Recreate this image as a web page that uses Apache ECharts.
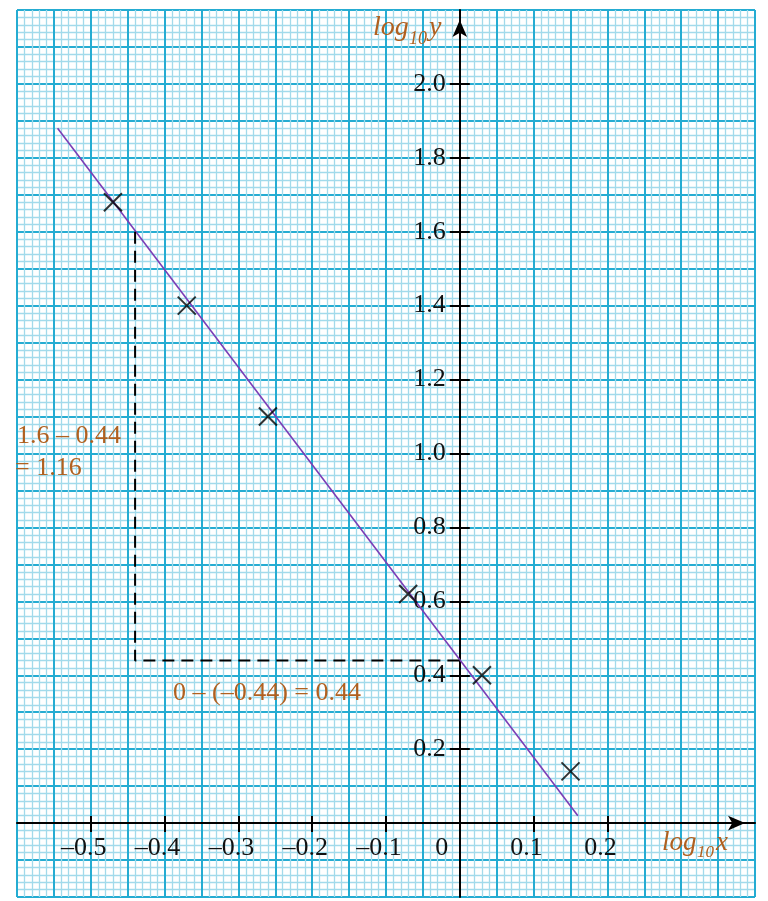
<!DOCTYPE html>
<html>
<head>
<meta charset="utf-8">
<script src="https://cdn.jsdelivr.net/npm/echarts@6/dist/echarts.min.js"></script>
<style>
html,body{margin:0;padding:0;background:#fff;}
#chart{width:768px;height:901px;}
</style>
</head>
<body>
<div id="chart"></div>
<script>
// ---- data ----
const logX = [-0.47, -0.37, -0.26, -0.07, 0.03, 0.15];
const logY = [1.68, 1.40, 1.10, 0.62, 0.40, 0.14];
const bestFitX = [-0.545, 0.16];
const bestFitY = [1.88, 0.02];
const triangleX = [-0.44, -0.44, 0];
const triangleY = [1.6, 0.44, 0.44];
const xLabelValues = [-0.5, -0.4, -0.3, -0.2, -0.1, 0, 0.1, 0.2];
const xTickValues = [-0.5, -0.4, -0.3, -0.2, -0.1, 0.1, 0.2];
const yLabelValues = [0.2, 0.4, 0.6, 0.8, 1.0, 1.2, 1.4, 1.6, 1.8, 2.0];

const X_MIN = -0.6, X_MAX = 0.4, Y_MIN = -0.2, Y_MAX = 2.2;
const BROWN = '#b0601f';
const SERIF = 'Liberation Serif';

// plot box in pixels
const L = 17, T = 10, W = 738, H = 887;
const zeroX = L + (0 - X_MIN) / (X_MAX - X_MIN) * W;   // pixel of x = 0
const zeroY = T + (Y_MAX - 0) / (Y_MAX - Y_MIN) * H;   // pixel of y = 0
const base = {containLabel: false, outerBoundsMode: 'none'};
const fullGrid = Object.assign({left: L, top: T, width: W, height: H}, base);
const xAxisGrid = Object.assign({left: L, top: T, width: W, height: zeroY - T}, base);   // bottom edge on y = 0
const yAxisGrid = Object.assign({left: zeroX, top: T, width: L + W - zeroX, height: H}, base); // left edge on x = 0

const chart = echarts.init(document.getElementById('chart'));

function ax(gi, min, max, extra) {
  return Object.assign({
    type: 'value', gridIndex: gi, min: min, max: max,
    axisLine: {show: false, onZero: false}, axisTick: {show: false}, axisLabel: {show: false},
    splitLine: {show: false}
  }, extra);
}
function hidden(gi, min, max) {
  return {type: 'value', gridIndex: gi, min: min, max: max, show: false, splitLine: {show: false}};
}

const option = {
  animation: false,
  backgroundColor: '#ffffff',
  grid: [fullGrid, Object.assign({}, fullGrid), xAxisGrid, Object.assign({}, xAxisGrid), yAxisGrid, Object.assign({}, yAxisGrid)],
  xAxis: [
    ax(0, X_MIN, X_MAX, {interval: 0.05, minorTick: {show: false, splitNumber: 5},
      minorSplitLine: {show: true, lineStyle: {color: '#a2daeb', width: 1.3}}}),
    ax(1, X_MIN, X_MAX, {interval: 0.05, splitLine: {show: true, lineStyle: {color: '#25acd2', width: 2}}}),
    ax(2, X_MIN, X_MAX, {
      position: 'bottom', interval: 0.1, z: 5,
      axisLine: {show: true, onZero: false, symbol: ['none', 'arrow'], symbolSize: [11, 17], symbolOffset: [0, -10],
        lineStyle: {color: '#000', width: 2}},
      axisTick: {show: true, inside: false, length: 9, customValues: xTickValues, lineStyle: {color: '#000', width: 2}},
      axisLabel: {show: true, customValues: xLabelValues, margin: 12,
        formatter: function (v) {
          if (Math.abs(v) < 1e-9) return '{z|0}';
          return '{n|' + (v < 0 ? '\u2013' : '') + Math.abs(v).toFixed(1) + '}';
        },
        rich: {
          n: {fontFamily: SERIF, fontSize: 26, color: '#111', padding: [0, 14, 0, 0]},
          z: {fontFamily: SERIF, fontSize: 26, color: '#111', padding: [0, 36, 0, 0]}
        }
      }
    }),
    ax(3, X_MIN, X_MAX, {
      position: 'bottom', interval: 0.1, z: 5,
      axisTick: {show: true, inside: true, length: 7, customValues: xTickValues, lineStyle: {color: '#000', width: 2}}
    }),
    hidden(4, 0, X_MAX),
    hidden(5, 0, X_MAX)
  ],
  yAxis: [
    ax(0, Y_MIN, Y_MAX, {interval: 0.1, minorTick: {show: false, splitNumber: 5},
      minorSplitLine: {show: true, lineStyle: {color: '#a2daeb', width: 1.3}}}),
    ax(1, Y_MIN, Y_MAX, {interval: 0.1, splitLine: {show: true, lineStyle: {color: '#25acd2', width: 2}}}),
    hidden(2, 0, Y_MAX),
    hidden(3, 0, Y_MAX),
    ax(4, Y_MIN, Y_MAX, {
      position: 'left', interval: 0.2, z: 5,
      axisLine: {show: true, onZero: false, symbol: ['none', 'arrow'], symbolSize: [11, 17], symbolOffset: [0, -10],
        lineStyle: {color: '#000', width: 2}},
      axisTick: {show: true, inside: false, length: 10, customValues: yLabelValues, lineStyle: {color: '#000', width: 2}},
      axisLabel: {show: true, customValues: yLabelValues, margin: 14, padding: [0, 0, 8, 0],
        fontFamily: SERIF, fontSize: 26, color: '#111',
        formatter: function (v) { return v.toFixed(1); }
      }
    }),
    ax(5, Y_MIN, Y_MAX, {
      position: 'left', interval: 0.2, z: 5,
      axisTick: {show: true, inside: true, length: 10, customValues: yLabelValues, lineStyle: {color: '#000', width: 2}}
    })
  ],
  series: [
    {
      type: 'line', xAxisIndex: 0, yAxisIndex: 0, z: 6,
      data: bestFitX.map((x, i) => [x, bestFitY[i]]),
      showSymbol: false, symbol: 'none',
      lineStyle: {color: '#7a3db6', width: 1.6}
    },
    {
      type: 'line', xAxisIndex: 0, yAxisIndex: 0, z: 6,
      data: triangleX.map((x, i) => [x, triangleY[i]]),
      showSymbol: false, symbol: 'none',
      lineStyle: {color: '#000', width: 2, type: [12, 7]}
    },
    {
      type: 'scatter', xAxisIndex: 0, yAxisIndex: 0, z: 7,
      data: logX.map((x, i) => [x, logY[i]]),
      symbol: 'path://M0,0L10,10M10,0L0,10',
      symbolSize: 18,
      itemStyle: {color: 'none', borderColor: '#000', borderWidth: 2}
    }
  ],
  graphic: [
    // log10 y
    {type: 'text', z: 10, style: {text: 'log', x: 373, y: 28, fontFamily: SERIF, fontStyle: 'italic', fontSize: 28, fill: BROWN, verticalAlign: 'middle'}},
    {type: 'text', z: 10, style: {text: '10', x: 409, y: 39, fontFamily: SERIF, fontStyle: 'italic', fontSize: 18, fill: BROWN, verticalAlign: 'middle'}},
    {type: 'text', z: 10, style: {text: 'y', x: 429, y: 28, fontFamily: SERIF, fontStyle: 'italic', fontSize: 28, fill: BROWN, verticalAlign: 'middle'}},
    // log10 x
    {type: 'text', z: 10, style: {text: 'log', x: 662, y: 843, fontFamily: SERIF, fontStyle: 'italic', fontSize: 27, fill: BROWN, verticalAlign: 'middle'}},
    {type: 'text', z: 10, style: {text: '10', x: 697, y: 853, fontFamily: SERIF, fontStyle: 'italic', fontSize: 17, fill: BROWN, verticalAlign: 'middle'}},
    {type: 'text', z: 10, style: {text: 'x', x: 716, y: 843, fontFamily: SERIF, fontStyle: 'italic', fontSize: 27, fill: BROWN, verticalAlign: 'middle'}},
    // annotations
    {type: 'text', z: 10, style: {text: '1.6 \u2013 0.44', x: 17, y: 436, fontFamily: SERIF, fontSize: 26, fill: BROWN, verticalAlign: 'middle'}},
    {type: 'text', z: 10, style: {text: '= 1.16', x: 15, y: 468, fontFamily: SERIF, fontSize: 26, fill: BROWN, verticalAlign: 'middle'}},
    {type: 'text', z: 10, style: {text: '0 \u2013 (\u20130.44) = 0.44', x: 173, y: 693, fontFamily: SERIF, fontSize: 26, fill: BROWN, verticalAlign: 'middle'}}
  ]
};
chart.setOption(option);
</script>
</body>
</html>
